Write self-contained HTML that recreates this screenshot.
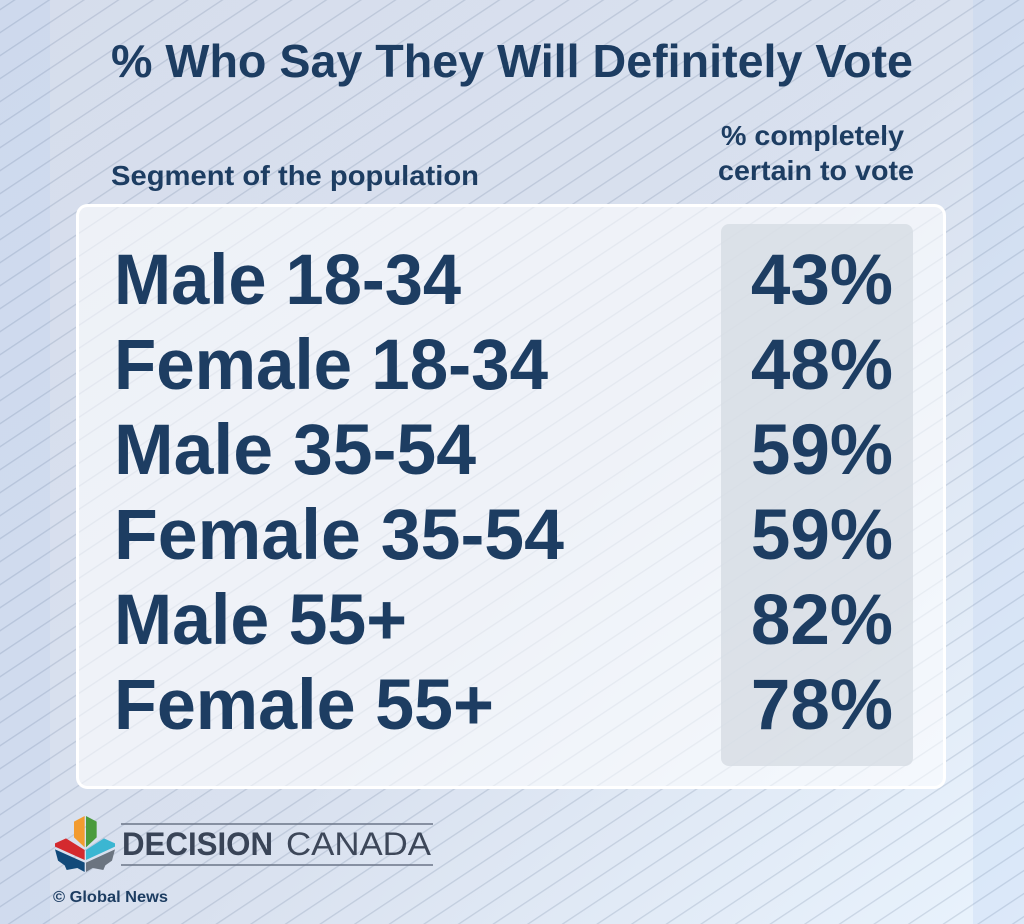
<!DOCTYPE html>
<html>
<head>
<meta charset="utf-8">
<style>
  html,body{margin:0;padding:0;background:#d8dfed;}
  svg{display:block;}
  text{font-family:"Liberation Sans", Arial, sans-serif;}
</style>
</head>
<body>
<svg width="1024" height="924" viewBox="0 0 1024 924" xmlns="http://www.w3.org/2000/svg">
  <defs>
    <linearGradient id="bg" x1="0" y1="0" x2="1024" y2="924" gradientUnits="userSpaceOnUse">
      <stop offset="0" stop-color="#d6ddec"/>
      <stop offset="0.55" stop-color="#d9e1ef"/>
      <stop offset="1" stop-color="#e9f3fd"/>
    </linearGradient>
    <pattern id="stripes" patternUnits="userSpaceOnUse" width="200" height="19.16" patternTransform="rotate(-33.6)">
      <line x1="-10" y1="8.08" x2="210" y2="8.08" stroke="rgba(40,70,110,0.15)" stroke-width="1.4"/>
    </pattern>
  </defs>

  <!-- background -->
  <rect x="0" y="0" width="1024" height="924" fill="url(#bg)"/>
  <rect x="0" y="0" width="50" height="924" fill="rgba(185,210,242,0.28)"/>
  <rect x="973" y="0" width="51" height="924" fill="rgba(185,210,242,0.28)"/>
  <rect x="0" y="0" width="1024" height="924" fill="url(#stripes)"/>

  <!-- title -->
  <text x="111" y="77" font-size="46" font-weight="bold" fill="#1d3d62" textLength="802" lengthAdjust="spacingAndGlyphs">% Who Say They Will Definitely Vote</text>

  <!-- headers -->
  <text x="111" y="185" font-size="28" font-weight="bold" fill="#1d3d62" textLength="368" lengthAdjust="spacingAndGlyphs">Segment of the population</text>
  <text x="721" y="145" font-size="28" font-weight="bold" fill="#1d3d62" textLength="183" lengthAdjust="spacingAndGlyphs">% completely</text>
  <text x="718" y="180" font-size="28" font-weight="bold" fill="#1d3d62" textLength="196" lengthAdjust="spacingAndGlyphs">certain to vote</text>

  <!-- panel -->
  <rect x="77.5" y="205.5" width="867" height="582" rx="10" ry="10" fill="rgba(255,255,255,0.58)" stroke="#ffffff" stroke-width="3"/>
  <rect x="721" y="224" width="192" height="542" rx="8" ry="8" fill="#d6dce4" fill-opacity="0.8"/>

  <!-- rows -->
  <g font-size="71" font-weight="bold" fill="#1d3d62">
    <text x="114" y="304" textLength="347" lengthAdjust="spacingAndGlyphs">Male 18-34</text>
    <text x="114" y="389" textLength="434" lengthAdjust="spacingAndGlyphs">Female 18-34</text>
    <text x="114" y="474" textLength="362" lengthAdjust="spacingAndGlyphs">Male 35-54</text>
    <text x="114" y="559" textLength="450" lengthAdjust="spacingAndGlyphs">Female 35-54</text>
    <text x="114" y="644" textLength="293" lengthAdjust="spacingAndGlyphs">Male 55+</text>
    <text x="114" y="729" textLength="380" lengthAdjust="spacingAndGlyphs">Female 55+</text>
  </g>
  <g font-size="71" font-weight="bold" fill="#1d3d62" text-anchor="end">
    <text x="893" y="304">43%</text>
    <text x="893" y="389">48%</text>
    <text x="893" y="474">59%</text>
    <text x="893" y="559">59%</text>
    <text x="893" y="644">82%</text>
    <text x="893" y="729">78%</text>
  </g>

  <!-- logo leaf -->
  <svg x="50" y="810" width="70" height="66" viewBox="0 0 210 198">
    <polygon points="72,35 104,18 104,112 72,82" fill="#f29b2f"/>
    <polygon points="108,18 140,35 140,82 108,112" fill="#4a9b3c"/>
    <polygon points="15,100 48,85 104,120 104,150 15,110" fill="#d42a2e"/>
    <polygon points="15,118 104,158 104,186 82,174 50,180 44,166 24,152" fill="#124a7a"/>
    <polygon points="195,100 162,85 108,120 108,150 195,110" fill="#3bb6d2"/>
    <polygon points="195,118 108,158 108,186 128,174 160,180 166,166 186,152" fill="#6b7480"/>
  </svg>

  <!-- logo text -->
  <line x1="121" y1="824" x2="433" y2="824" stroke="#6b7587" stroke-width="1.6"/>
  <line x1="121" y1="865" x2="433" y2="865" stroke="#6b7587" stroke-width="1.6"/>
  <text x="122" y="855" font-size="32" font-weight="bold" fill="#394457" textLength="151" lengthAdjust="spacingAndGlyphs">DECISION</text>
  <text x="286" y="855" font-size="32" fill="#3d4759" textLength="145" lengthAdjust="spacingAndGlyphs">CANADA</text>

  <text x="53" y="902" font-size="15.5" font-weight="bold" fill="#1d3d62" textLength="115" lengthAdjust="spacingAndGlyphs">© Global News</text>
</svg>
</body>
</html>
